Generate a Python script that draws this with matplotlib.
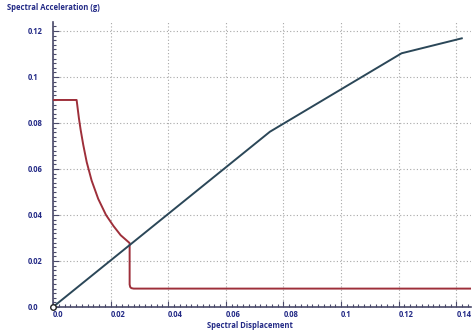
import matplotlib
matplotlib.use("Agg")
import matplotlib.pyplot as plt
from matplotlib.ticker import MultipleLocator, FixedLocator

# Capacity curve (blue)
cap_sd = [0.0, 0.0753, 0.121, 0.1419]
cap_sa = [0.0, 0.0762, 0.1103, 0.1168]

# Demand spectrum (red)
dem_sd = [0.0, 0.0082, 0.0086, 0.0090, 0.0096, 0.0105, 0.0117, 0.0134, 0.0157,
          0.0184, 0.0210, 0.0235, 0.0266, 0.0266, 0.0268, 0.0272, 0.0280, 0.1451]
dem_sa = [0.09, 0.09, 0.0860, 0.0820, 0.0770, 0.0705, 0.0630, 0.0550, 0.0470,
          0.0400, 0.0352, 0.0312, 0.0278, 0.0098, 0.0087, 0.0082, 0.0080, 0.0080]

x_ticks = [0.0, 0.02, 0.04, 0.06, 0.08, 0.10, 0.12, 0.14]
x_labels = ["0.0", "0.02", "0.04", "0.06", "0.08", "0.1", "0.12", "0.14"]
y_ticks = [0.0, 0.02, 0.04, 0.06, 0.08, 0.10, 0.12]
y_labels = ["0.0", "0.02", "0.04", "0.06", "0.08", "0.1", "0.12"]

navy = "#232a86"
axis_col = "#4a4a6a"
fam = ["Open Sans", "DejaVu Sans"]

fig = plt.figure(figsize=(4.74, 3.35), dpi=100)
ax = fig.add_axes([53/474, (335-307)/335, (471-53)/474, (307-22)/335])

ax.plot(dem_sd, dem_sa, color="#9e2f3a", lw=1.4, solid_joinstyle="round", zorder=3)
ax.plot(cap_sd, cap_sa, color="#2b4758", lw=1.4, zorder=4)
ax.plot([0], [0], marker="o", ms=4, mfc="white", mec="#222222", mew=1.0, zorder=5, clip_on=False)

ax.set_xlim(0, 0.1451)
ax.set_ylim(0, 0.1239)

ax.xaxis.set_major_locator(FixedLocator(x_ticks))
ax.yaxis.set_major_locator(FixedLocator(y_ticks))
ax.xaxis.set_minor_locator(MultipleLocator(0.002))
ax.yaxis.set_minor_locator(MultipleLocator(0.002))
ax.set_xticklabels(x_labels)
ax.set_yticklabels(y_labels)

ax.grid(True, which="major", linestyle=(0, (1, 2)), color="#a8a8a8", lw=0.8)
for s in ["top", "right"]:
    ax.spines[s].set_visible(False)
for s in ["left", "bottom"]:
    ax.spines[s].set_color(axis_col)
    ax.spines[s].set_linewidth(1.2)

ax.tick_params(axis="both", which="major", direction="in", length=4, width=0.8, color=axis_col)
ax.tick_params(axis="both", which="minor", direction="in", length=2.5, width=0.8, color=axis_col)
ax.tick_params(axis="y", which="major", pad=18)
ax.tick_params(axis="x", which="major", pad=2.5)

for lab in ax.get_yticklabels():
    lab.set_horizontalalignment("left")
    lab.set_fontsize(5.5)
    lab.set_fontweight("bold")
    lab.set_color(navy)
    lab.set_family(fam)
for lab in ax.get_xticklabels():
    lab.set_horizontalalignment("left")
    lab.set_fontsize(5.5)
    lab.set_fontweight("bold")
    lab.set_color(navy)
    lab.set_family(fam)

fig.text(7/474, 1 - 8/335, "Spectral Acceleration (g)", fontsize=5.5, fontweight="bold",
         color=navy, family=fam, ha="left", va="center")
fig.text(250/474, 1 - 326/335, "Spectral Displacement", fontsize=5.5, fontweight="bold",
         color=navy, family=fam, ha="center", va="center")

fig.savefig("out.png", dpi=100)
